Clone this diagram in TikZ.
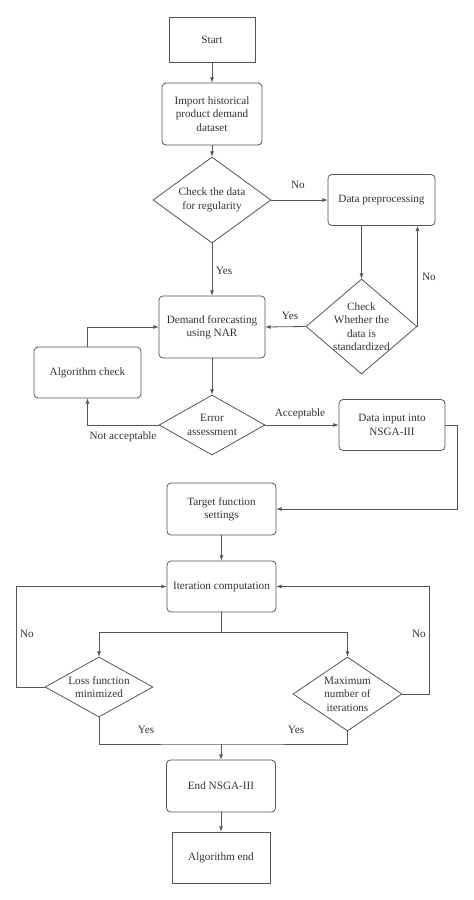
\documentclass[tikz,border=0pt]{standalone}
\usepackage{fontspec}
\setmainfont{Liberation Serif}
\usepackage{xcolor}
\usepackage{tikz}
\usetikzlibrary{shapes,shapes.geometric}
\usetikzlibrary{calc,arrows,positioning}
\definecolor{linegray}{HTML}{555555}
\definecolor{textgray}{HTML}{333333}

\begin{document}
\begin{tikzpicture}[x=1pt,y=-1pt]
	\tikzstyle{every node}=[font=\fontsize{11.2}{13.4}\selectfont, text=textgray]
	\tikzstyle{plain}=[rectangle, draw=linegray, line width=0.8pt, align=center, inner sep=2pt]
	\tikzstyle{rbox}=[plain, rounded corners=4pt]
	\tikzstyle{dec}=[diamond, draw=linegray, line width=0.8pt, align=center, inner sep=-3pt]
	\tikzstyle{line}=[draw=linegray, line width=0.8pt]
	\tikzstyle{arr}=[line, -latex]
	\tikzstyle{lbl}=[inner sep=1pt]
	\useasboundingbox (0,0) rectangle (474,900);
	% boxes and decisions
	\node[plain, minimum width=86pt, minimum height=45pt] (start) at (212,39.5) {Start};
	\node[rbox, minimum width=100pt, minimum height=62pt] (import) at (212,114) {Import historical\\product demand\\dataset};
	\node[dec, minimum width=118pt, minimum height=86pt, aspect=1.37] (chkreg) at (212,200) {Check the data\\for regularity};
	\node[rbox, minimum width=107pt, minimum height=51pt] (prep) at (381.5,200) {Data preprocessing};
	\node[dec, minimum width=111pt, minimum height=95pt, aspect=1.17] (chkstd) at (361.5,326.5) {Check\\Whether the\\data is\\standardized};
	\node[rbox, minimum width=106pt, minimum height=62pt] (nar) at (212,327) {Demand forecasting\\using NAR};
	\node[rbox, minimum width=107pt, minimum height=51pt] (algchk) at (87.5,372.5) {Algorithm check};
	\node[dec, minimum width=106pt, minimum height=60pt, aspect=1.77] (err) at (212,425) {Error\\assessment};
	\node[rbox, minimum width=106pt, minimum height=51pt] (nsgain) at (392,425) {Data input into\\NSGA-III};
	\node[rbox, minimum width=109pt, minimum height=52pt] (target) at (221.5,509) {Target function\\settings};
	\node[rbox, minimum width=109pt, minimum height=51pt] (iter) at (221.5,586.5) {Iteration computation};
	\node[dec, minimum width=108pt, minimum height=60pt, aspect=1.8] (loss) at (99,687) {Loss function\\minimized};
	\node[dec, minimum width=109pt, minimum height=74pt, aspect=1.47] (maxit) at (347.5,694) {Maximum\\number of\\iterations};
	\node[rbox, minimum width=109pt, minimum height=52pt] (nsgaend) at (221,786) {End NSGA-III};
	\node[plain, minimum width=98pt, minimum height=51pt] (algend) at (221,857.5) {Algorithm end};
	% branch labels
	\node[lbl] (noprep) at (298,185) {No};
	\node[lbl] (yesreg) at (224,271) {Yes};
	\node[lbl] (nostd) at (429,277) {No};
	\node[lbl] (yesstd) at (290,316) {Yes};
	\node[lbl] (okerr) at (300,414) {Acceptable};
	\node[lbl] (noterr) at (123,437) {Not acceptable};
	\node[lbl] (noloss) at (27,634) {No};
	\node[lbl] (nomax) at (419,634) {No};
	\node[lbl] (yesloss) at (146,730) {Yes};
	\node[lbl] (yesmax) at (296,730) {Yes};
	% connectors
	\draw[arr] (start.south) -- (import.north);
	\draw[arr] (import.south) -- (chkreg.north);
	\draw[arr] (chkreg.east) -- (prep.west);
	\draw[arr] (chkreg.south) -- (nar.north);
	\draw[arr] (prep.south -| chkstd.north) -- (chkstd.north);
	\draw[arr] (chkstd.east) -- (chkstd.east |- prep.south);
	\draw[arr] (chkstd.west) -- (nar.east);
	\draw[arr] (nar.south) -- (err.north);
	\draw[arr] (err.east) -- (nsgain.west);
	\draw[arr] (err.west) -| (algchk.south);
	\draw[arr] (algchk.north) |- (nar.west);
	\draw[arr] (nsgain.east) -- ++(12,0) |- (target.east);
	\draw[arr] (target.south) -- (iter.north);
	\coordinate (split) at (221.5,632);
	\draw[arr] (iter.south) -- (split) -| (loss.north);
	\draw[arr] (split) -| (maxit.north);
	\draw[arr] (loss.west) -- ++(-28,0) |- (iter.west);
	\draw[arr] (maxit.east) -- ++(27,0) |- (iter.east);
	\coordinate (merge) at (221,744);
	\draw[line] (loss.south) |- (merge) -| (maxit.south);
	\draw[arr] (merge) -- (nsgaend.north);
	\draw[arr] (nsgaend.south) -- (algend.north);
\end{tikzpicture}
\end{document}
